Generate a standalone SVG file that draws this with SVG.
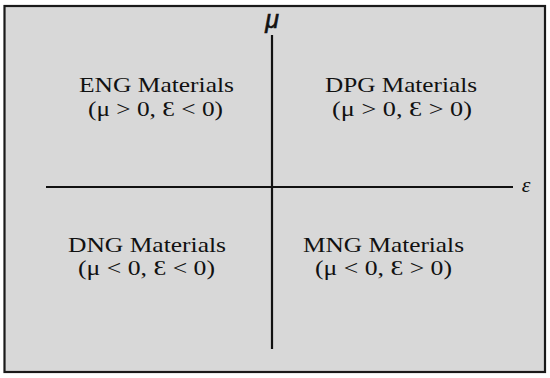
<svg xmlns="http://www.w3.org/2000/svg" width="550" height="378" viewBox="0 0 550 378">
<style>
.lbl{font-family:"Liberation Serif","Times New Roman",serif;font-size:21px;fill:#111;text-anchor:middle}
.axis{stroke:#111;stroke-width:2.2;fill:none}
</style>
<rect x="0" y="0" width="550" height="378" fill="#ffffff"/>
<rect id="frame" x="4.5" y="6" width="540.5" height="366" fill="#d8d8d8" stroke="#1a1a1a" stroke-width="2.2"/>
<g id="connectors">
<line class="axis" x1="272" y1="35" x2="272" y2="349"/>
<line class="axis" x1="46" y1="187" x2="513" y2="187"/>
</g>
<g id="mu-label"><text x="272" y="28" style="font-family:'Liberation Sans',Arial,sans-serif;font-style:italic;font-size:25px;text-anchor:middle;fill:#111;stroke:#111;stroke-width:0.6">μ</text></g>
<g id="eps-label"><text x="526" y="192" style="font-family:'Liberation Serif',serif;font-style:italic;font-size:22px;text-anchor:middle;fill:#111">ε</text></g>
<g id="eng">
<text class="lbl" x="156.5" y="92" textLength="155" lengthAdjust="spacingAndGlyphs">ENG Materials</text>
<text class="lbl" x="155.5" y="116" textLength="135" lengthAdjust="spacingAndGlyphs">(μ &gt; 0, Ɛ &lt; 0)</text>
</g>
<g id="dpg">
<text class="lbl" x="401" y="92" textLength="152" lengthAdjust="spacingAndGlyphs">DPG Materials</text>
<text class="lbl" x="402" y="116" textLength="140" lengthAdjust="spacingAndGlyphs">(μ &gt; 0, Ɛ &gt; 0)</text>
</g>
<g id="dng">
<text class="lbl" x="147" y="252" textLength="158" lengthAdjust="spacingAndGlyphs">DNG Materials</text>
<text class="lbl" x="146.5" y="275" textLength="137" lengthAdjust="spacingAndGlyphs">(μ &lt; 0, Ɛ &lt; 0)</text>
</g>
<g id="mng">
<text class="lbl" x="383.5" y="252" textLength="161" lengthAdjust="spacingAndGlyphs">MNG Materials</text>
<text class="lbl" x="383.5" y="275" textLength="137" lengthAdjust="spacingAndGlyphs">(μ &lt; 0, Ɛ &gt; 0)</text>
</g>
</svg>
